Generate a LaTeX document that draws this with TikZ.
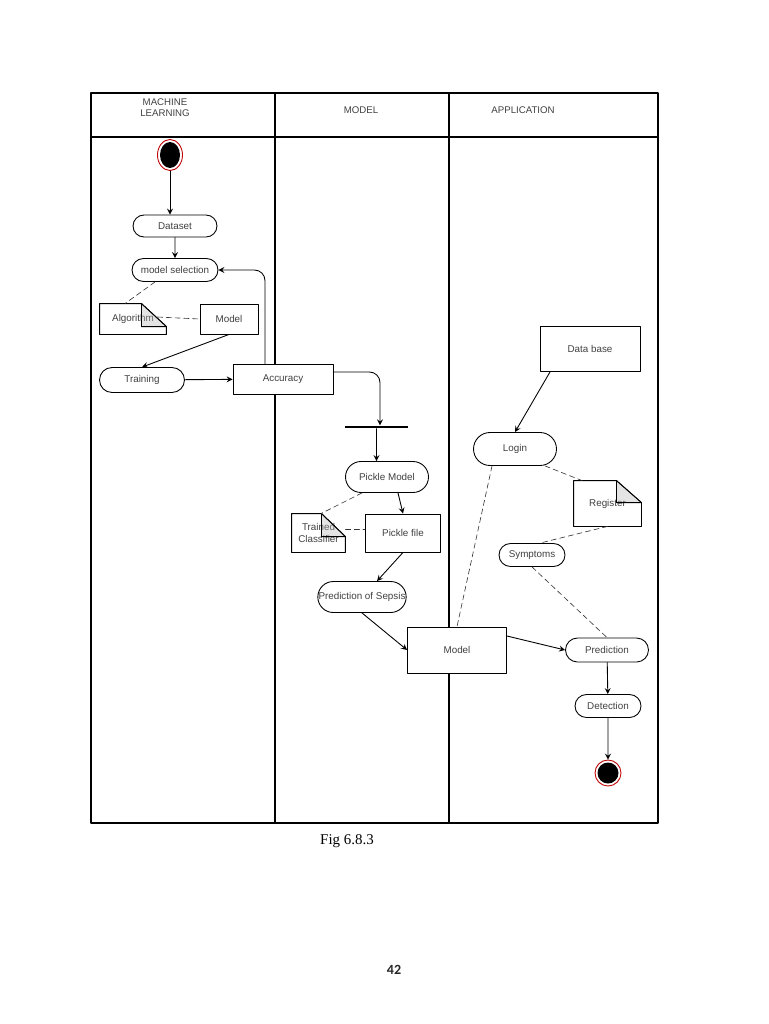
\documentclass[tikz,border=0pt]{standalone}
\usepackage{fontspec}
\newfontfamily\diagfont{Liberation Sans}
\newfontfamily\capfont{Liberation Serif}
\newfontfamily\pagefont{Carlito}
\usetikzlibrary{shapes.misc,shapes.geometric}

% note with a folded corner, drawn round a named node
\newcommand\dognote[3]{%
  \draw (#1.north west) -- ([xshift=-#2]#1.north east) -- ([yshift=-#3]#1.north east)
    -- (#1.south east) -- (#1.south west) -- cycle;
  \draw[fill=black!30,fill opacity=0.35] ([xshift=-#2]#1.north east) -- ([xshift=-#2,yshift=-#3]#1.north east)
    -- ([yshift=-#3]#1.north east) -- cycle;}

\begin{document}
\begin{tikzpicture}[x=0.02cm,y=-0.02cm,line cap=round,line join=round,>=stealth,line width=0.5pt,
  every node/.style={inner sep=1pt,font=\diagfont\fontsize{5.6}{6.6}\selectfont,text=black!75},
  act/.style={rounded rectangle,draw,fill=white,inner sep=0pt},
  box/.style={rectangle,draw,fill=white,inner sep=0pt},
  note/.style={rectangle,inner sep=0pt},
  flow/.style={->},
  link/.style={densely dashed,line width=0.35pt,black!80}]
  \useasboundingbox (0,0) rectangle (768,1024);

  % swimlanes
  \draw[line width=0.6pt] (91,93) rectangle (658,823);
  \draw[line width=0.6pt] (91,137) -- (658,137);
  \foreach \x in {275,449}{
    \draw[line width=0.6pt] (\x,93) -- (\x,823);
  }
  \node[align=center,font=\diagfont\fontsize{5.5}{6.4}\selectfont] (hml) at (165,108) {MACHINE\\LEARNING};
  \node[font=\diagfont\fontsize{5.5}{6.4}\selectfont] (hmodel) at (361,110) {MODEL};
  \node[font=\diagfont\fontsize{5.5}{6.4}\selectfont] (happ) at (523,110) {APPLICATION};

  % machine learning lane
  \node[ellipse,draw=red!75!black,fill=white,minimum width=0.5cm,minimum height=0.62cm,inner sep=0pt] (startring) at (170,155) {};
  \node[ellipse,fill=black,minimum width=0.4cm,minimum height=0.52cm,inner sep=0pt] (start) at (170,155) {};
  \node[act,minimum width=1.68cm,minimum height=0.44cm] (dataset) at (175,226) {Dataset};
  \node[act,minimum width=1.72cm,minimum height=0.46cm] (modsel) at (175,270) {model selection};
  \node[note,minimum width=1.32cm,minimum height=0.6cm] (algorithm) at (133,319) {Algorithm};
  \dognote{algorithm}{0.5cm}{0.46cm}
  \node[box,minimum width=1.16cm,minimum height=0.6cm] (modelml) at (229,319) {Model};
  \node[act,minimum width=1.7cm,minimum height=0.5cm] (training) at (142,380) {Training};
  \node[box,minimum width=2cm,minimum height=0.6cm] (accuracy) at (283,379) {Accuracy};

  % model lane
  \node[rectangle,fill=black,minimum width=1.26cm,minimum height=0.05cm,inner sep=0pt] (fork) at (376.5,427) {};
  \node[act,minimum width=1.66cm,minimum height=0.62cm] (picklemodel) at (387,477) {Pickle Model};
  \node[note,minimum width=1.06cm,minimum height=0.76cm,align=center] (trained) at (318.5,533) {Trained\\Classifier};
  \dognote{trained}{0.48cm}{0.46cm}
  \node[box,minimum width=1.5cm,minimum height=0.76cm] (picklefile) at (403,533) {Pickle file};
  \node[act,minimum width=1.76cm,minimum height=0.62cm] (sepsis) at (362,597) {Prediction of Sepsis};

  % application lane
  \node[box,minimum width=2cm,minimum height=0.9cm] (database) at (590,349) {Data base};
  \node[act,minimum width=1.66cm,minimum height=0.66cm] (login) at (515,449) {Login};
  \node[note,minimum width=1.34cm,minimum height=0.9cm] (register) at (607.5,503.5) {Register};
  \dognote{register}{0.5cm}{0.44cm}
  \node[act,minimum width=1.32cm,minimum height=0.46cm] (symptoms) at (532,555) {Symptoms};
  \node[box,minimum width=1.98cm,minimum height=0.92cm] (modelapp) at (457,650) {Model};
  \node[act,minimum width=1.66cm,minimum height=0.48cm] (prediction) at (607,650) {Prediction};
  \node[act,minimum width=1.32cm,minimum height=0.46cm] (detection) at (608,706) {Detection};
  \node[circle,draw=red!75!black,fill=white,minimum size=0.52cm,inner sep=0pt] (endring) at (608,773) {};
  \node[circle,fill=black,minimum size=0.42cm,inner sep=0pt] (end) at (608,773) {};

  % control flow
  \draw[flow] (startring) -- (startring |- dataset.north);
  \draw[flow] (dataset) -- (modsel);
  \draw[flow] (modelml.south) -- (training.north);
  \draw[flow] (training) -- (accuracy);
  \draw[flow,rounded corners=6pt] ([xshift=-0.36cm]accuracy.north) |- (modsel.east);
  \draw[flow,rounded corners=6pt] ([yshift=0.14cm]accuracy.east) -| ([xshift=0.07cm]fork.north);
  \draw[flow] (fork.south) -- (fork.south |- picklemodel.north);
  \draw[flow] ([xshift=0.22cm]picklemodel.south) -- (picklefile.north);
  \draw[flow] (picklefile.south) -- ([xshift=0.3cm]sepsis.north);
  \draw[flow] (sepsis.south) -- (modelapp.west);
  \draw[flow] ([yshift=0.28cm]modelapp.east) -- (prediction.west);
  \draw[flow] ([xshift=-0.8cm]database.south) -- (login.north);
  \draw[flow] (prediction) -- (detection);
  \draw[flow] (detection) -- (endring);

  % object links
  \draw[link] ([xshift=-0.4cm]modsel.south) -- ([xshift=-0.16cm]algorithm.north);
  \draw[link] ([xshift=-0.18cm,yshift=0.04cm]algorithm.east) -- (modelml.west);
  \draw[link] ([xshift=-0.5cm]picklemodel.south) -- ([xshift=0.05cm]trained.north);
  \draw[link] ([yshift=0.08cm]trained.east) -- ([yshift=0.08cm]picklefile.west);
  \draw[link] ([xshift=0.6cm]login.south) -- ([xshift=-0.51cm]register.north);
  \draw[link] (register.south) -- ([xshift=0.16cm]symptoms.north);
  \draw[link] (symptoms.south) -- (prediction.north);
  \draw[link] ([xshift=-0.46cm]login.south) -- (modelapp.north);

  \node[font=\capfont\fontsize{8.5}{10}\selectfont,text=black] (caption) at (347,841) {Fig 6.8.3};
  \node[font=\pagefont\bfseries\fontsize{8}{9}\selectfont,text=black!85] (pagenum) at (394,970) {42};
\end{tikzpicture}
\end{document}
